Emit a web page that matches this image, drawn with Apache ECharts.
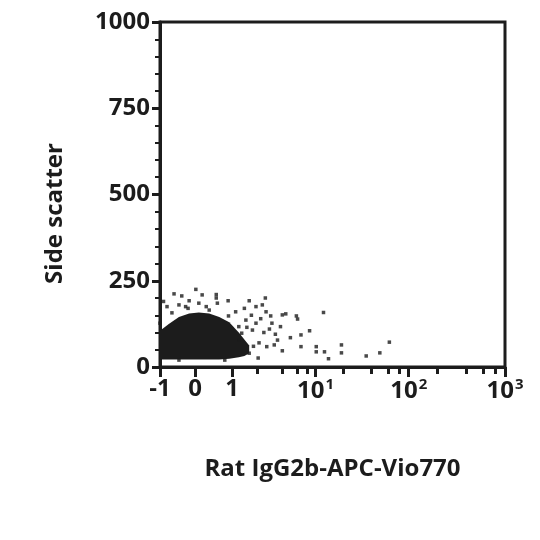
<!DOCTYPE html>
<html>
<head>
<meta charset="utf-8">
<script src="https://cdn.jsdelivr.net/npm/echarts@6/dist/echarts.min.js"></script>
<style>html,body{margin:0;background:#fff}#chart{width:540px;height:540px}</style>
</head>
<body>
<div id="chart"></div>
<script>
// x axis is biexponential: anchor values and their positions along the axis
const anchorValues = [-1, 0, 1, 10, 100, 1000];
const anchorPos = [0, 35, 72, 155, 248, 344];
const majorTickValues = [-1, 0, 1, 10, 100, 1000];
const minorTickValues = [2, 4, 6, 8, 20, 40, 60, 80, 200, 400, 600, 800];
const xLabels = ['-1', '0', '1', '10|1', '10|2', '10|3'];
const yMajor = [0, 250, 500, 750, 1000];
const yMinor = [50, 100, 150, 200, 300, 350, 400, 450, 550, 600, 650, 700, 800, 850, 900, 950];

// dense population outline: x, lower and upper side scatter
const blobX = [-1, -0.75, -0.46, -0.17, 0.1, 0.38, 0.65, 0.92, 1.2, 1.4, 1.6];
const blobLow = [22, 22, 22, 22, 22, 22, 22, 24, 28, 32, 40];
const blobHigh = [105, 125, 145, 155, 158, 155, 145, 130, 100, 80, 62];

// sparse events [x, side scatter]
const events = [
  [0.02, 225], [-0.6, 212], [-0.38, 206], [0.19, 209], [0.57, 210], [0.57, 200],
  [0.89, 192], [2.5, 200], [1.6, 192], [1.93, 175], [2.3, 180], [4.4, 154],
  [6.1, 139], [12.2, 158], [8.5, 105], [6.7, 93], [3.5, 78], [4.0, 47],
  [6.7, 59], [10.2, 59], [10.2, 44], [12.5, 44], [13.8, 24], [19, 64],
  [19, 41], [35, 32], [49, 41], [62, 72], [2.9, 148], [3.0, 127],
  [2.55, 160], [2.1, 70], [2.6, 59], [3.2, 64], [2.05, 26], [1.6, 40],
  [1.2, 78], [1.46, 136], [1.1, 160], [0.9, 148], [-0.27, 175], [-0.46, 180],
  [-0.66, 157], [-0.8, 175], [0.1, 185], [0.38, 165], [-0.17, 192], [-1, 127],
  [1.2, 117], [1.3, 98], [1.75, 107], [1.93, 127], [3.8, 117], [-0.46, 20],
  [0.8, 20], [4.0, 151], [5.9, 148], [1.4, 170], [2.2, 140], [1.7, 150],
  [-0.9, 190], [0.6, 185], [3.3, 95], [5.0, 85], [2.8, 110], [1.8, 60],
  [2.4, 100], [1.5, 115], [-0.2, 170], [0.3, 175]
];

function tx(v) {
  for (let i = 0; i < anchorValues.length - 1; i++) {
    const a = anchorValues[i], b = anchorValues[i + 1];
    if (v <= b || i === anchorValues.length - 2) {
      const f = a >= 1 ? (Math.log10(v) - Math.log10(a)) / (Math.log10(b) - Math.log10(a))
                       : (v - a) / (b - a);
      return anchorPos[i] + f * (anchorPos[i + 1] - anchorPos[i]);
    }
  }
}

const blobPts = blobX.map((x, i) => [tx(x), blobHigh[i]])
  .concat(blobX.map((x, i) => [tx(x), blobLow[i]]).reverse());

const ink = '#1c1c1c';
const font = 'Open Sans';
const majX = majorTickValues.map(tx);
const labelOf = {};
majX.forEach((p, i) => labelOf[p.toFixed(3)] = xLabels[i]);

const chart = echarts.init(document.getElementById('chart'));
chart.setOption({
  animation: false,
  grid: { left: 160, right: 35, top: 22, bottom: 173, show: true, borderColor: ink, borderWidth: 3 },
  xAxis: [
    {
      type: 'value', min: 0, max: 344, splitLine: { show: false },
      axisLine: { lineStyle: { color: ink, width: 3 } },
      axisTick: { customValues: majX, length: 10, lineStyle: { color: ink, width: 3 } },
      axisLabel: {
        customValues: majX, margin: 10, color: ink,
        formatter: v => {
          const s = labelOf[v.toFixed(3)] || '';
          const p = s.split('|');
          return p.length > 1 ? '{b|' + p[0] + '}{s|' + p[1] + '}' : '{b|' + s + '}';
        },
        rich: {
          b: { fontFamily: font, fontWeight: 'bold', fontSize: 24, color: ink },
          s: { fontFamily: font, fontWeight: 'bold', fontSize: 15, color: ink, padding: [0, 0, 14, 1] }
        }
      },
      name: 'Rat IgG2b-APC-Vio770', nameLocation: 'middle', nameGap: 90,
      nameTextStyle: { fontFamily: font, fontWeight: 'bold', fontSize: 24, color: ink }
    },
    {
      type: 'value', min: 0, max: 344, position: 'bottom', splitLine: { show: false },
      axisLine: { show: false }, axisLabel: { show: false },
      axisTick: { customValues: minorTickValues.map(tx), length: 7, lineStyle: { color: ink, width: 3 } }
    }
  ],
  yAxis: [
    {
      type: 'value', min: 0, max: 1000, splitLine: { show: false },
      axisLine: { lineStyle: { color: ink, width: 3 } },
      axisTick: { customValues: yMajor, length: 8, lineStyle: { color: ink, width: 3 } },
      axisLabel: { customValues: yMajor, margin: 10, color: ink, fontFamily: font, fontWeight: 'bold', fontSize: 24, formatter: v => String(v) },
      name: 'Side scatter', nameLocation: 'middle', nameGap: 93,
      nameTextStyle: { fontFamily: font, fontWeight: 'bold', fontSize: 24, color: ink, padding: [0, 0, 0, -38] }
    },
    {
      type: 'value', min: 0, max: 1000, position: 'left', splitLine: { show: false },
      axisLine: { show: false }, axisLabel: { show: false },
      axisTick: { customValues: yMinor, length: 5, lineStyle: { color: ink, width: 2 } }
    }
  ],
  series: [
    {
      type: 'custom', xAxisIndex: 0, yAxisIndex: 0, data: [0],
      renderItem: (params, api) => ({
        type: 'polygon',
        shape: { points: blobPts.map(p => api.coord(p)) },
        style: { fill: ink }
      })
    },
    {
      type: 'scatter', xAxisIndex: 0, yAxisIndex: 0, symbol: 'rect', symbolSize: 3.5,
      itemStyle: { color: ink },
      data: events.map(e => [tx(e[0]), e[1]])
    }
  ]
});
</script>
</body>
</html>
